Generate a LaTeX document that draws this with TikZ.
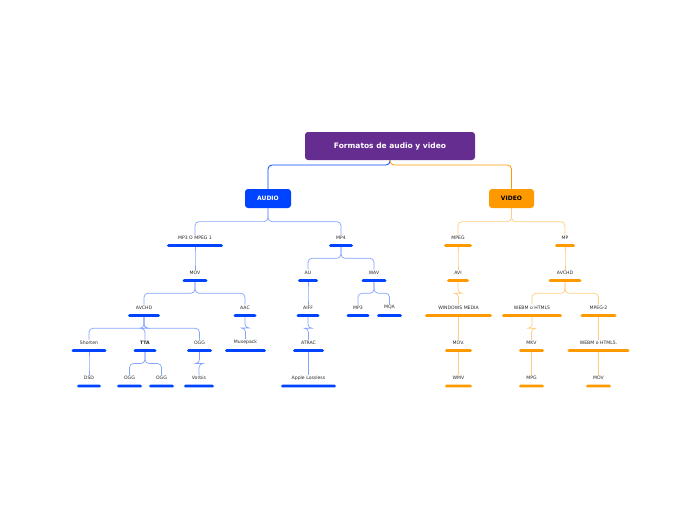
\documentclass[tikz,border=0pt]{standalone}
\usepackage{fontspec}
\setmainfont{DejaVu Sans}
\usetikzlibrary{calc}
\definecolor{purp}{HTML}{662D91}
\definecolor{ablue}{HTML}{0044FF}
\definecolor{lblue}{HTML}{86A4FF}
\definecolor{vor}{HTML}{FF9900}
\definecolor{lor}{HTML}{FFCC80}
\tikzset{
 lbl/.style={font=\fontsize{4.6}{5}\selectfont, text=black!85, inner sep=1pt},
 barA/.style={fill=ablue, rounded corners=1.3pt, minimum height=2.6pt, inner sep=0pt},
 barV/.style={fill=vor, rounded corners=1.3pt, minimum height=2.6pt, inner sep=0pt},
 cA/.style={draw=lblue, line width=0.7pt, rounded corners=4pt},
 cV/.style={draw=lor, line width=0.7pt, rounded corners=4pt},
}
\newcommand{\leafA}[6]{\node[lbl] (#1) at (#2,#3) {#6};\node[barA,minimum width=#5pt] (#1-b) at (#2,#4) {};}
\newcommand{\leafV}[6]{\node[lbl] (#1) at (#2,#3) {#6};\node[barV,minimum width=#5pt] (#1-b) at (#2,#4) {};}
\newcommand{\cn}[3]{\draw[#1] (#2) |- ($(#2)!.5!(#3.north)$) -| (#3.north);}
\begin{document}
\begin{tikzpicture}[x=1pt,y=-1pt]
\useasboundingbox (0,0) rectangle (697,520);
\node[fill=purp, rounded corners=3pt, minimum width=170pt, minimum height=28pt, text=white, font=\bfseries\fontsize{7.5}{9}\selectfont] (root) at (390,146) {Formatos de audio y video};
\node[fill=ablue, rounded corners=3pt, minimum width=46pt, minimum height=19pt, text=white, font=\bfseries\fontsize{6}{7}\selectfont] (audio) at (268,198.5) {AUDIO};
\node[fill=vor, rounded corners=3pt, minimum width=45pt, minimum height=19pt, text=black, font=\bfseries\fontsize{6}{7}\selectfont] (video) at (511.5,198.5) {VIDEO};
\draw[draw=ablue,line width=0.8pt,rounded corners=4pt] (root.south) |- (300,165) -| (audio.north);
\draw[draw=vor,line width=0.8pt,rounded corners=4pt] (root.south) |- (450,165) -| (video.north);
% audio
\leafA{mp3}{195}{238}{245.5}{56}{MP3 O MPEG 1}
\leafA{mp4}{341}{238}{245.5}{24}{MP4}
\leafA{mov}{195}{272.5}{280.5}{25}{MOV}
\leafA{au}{308}{272.5}{280.5}{20}{AU}
\leafA{wav}{374}{272.5}{280.5}{25}{WAV}
\leafA{avchd}{144}{307.5}{315.5}{32}{AVCHD}
\leafA{aac}{245}{307.5}{315.5}{23}{AAC}
\leafA{aiff}{308}{307.5}{315.5}{23}{AIFF}
\leafA{mp3b}{358}{307.5}{315.5}{23}{MP3}
\leafA{mqa}{389.5}{307.5}{315.5}{25}{MQA}
\leafA{shorten}{89}{342.5}{350.5}{35}{Shorten}
\leafA{tta}{145}{342.5}{350.5}{23}{\textbf{TTA}}
\leafA{ogg}{199.5}{342.5}{350.5}{25}{OGG}
\leafA{muse}{245.5}{342.5}{350.5}{41}{Musepack}
\leafA{atrac}{308.5}{342.5}{350.5}{31}{ATRAC}
\leafA{dsd}{89}{378}{386}{24}{DSD}
\leafA{ogg1}{129.5}{378}{386}{25}{OGG}
\leafA{ogg2}{161.5}{378}{386}{25}{OGG}
\leafA{vorbis}{199}{378}{386}{30}{Vorbis}
\leafA{apple}{308.5}{378}{386}{55}{Apple Lossless}
\cn{cA}{audio.south}{mp3}\cn{cA}{audio.south}{mp4}
\cn{cA}{mp3-b.south}{mov}
\cn{cA}{mp4-b.south}{au}\cn{cA}{mp4-b.south}{wav}
\cn{cA}{mov-b.south}{avchd}\cn{cA}{mov-b.south}{aac}
\cn{cA}{au-b.south}{aiff}
\cn{cA}{wav-b.south}{mp3b}\cn{cA}{wav-b.south}{mqa}
\cn{cA}{avchd-b.south}{shorten}\cn{cA}{avchd-b.south}{tta}\cn{cA}{avchd-b.south}{ogg}
\cn{cA}{aac-b.south}{muse}
\cn{cA}{aiff-b.south}{atrac}
\cn{cA}{shorten-b.south}{dsd}
\cn{cA}{tta-b.south}{ogg1}\cn{cA}{tta-b.south}{ogg2}
\cn{cA}{ogg-b.south}{vorbis}
\cn{cA}{atrac-b.south}{apple}
% video
\leafV{mpeg}{458}{238}{245.5}{28}{MPEG}
\leafV{mp}{565}{238}{245.5}{20}{MP}
\leafV{avi}{458}{272.5}{280.5}{22}{AVI}
\leafV{vavchd}{565}{272.5}{280.5}{33}{AVCHD}
\leafV{win}{458.5}{307.5}{315.5}{67}{WINDOWS MEDIA}
\leafV{webm}{532}{307.5}{315.5}{60}{WEBM o HTML5}
\leafV{mpeg2}{598.5}{307.5}{315.5}{36}{MPEG-2}
\leafV{movp}{458.5}{342.5}{350.5}{27}{MOV.}
\leafV{mkv}{531.5}{342.5}{350.5}{25}{MKV}
\leafV{webm2}{598.5}{342.5}{350.5}{62}{WEBM o HTML5.}
\leafV{wmv}{458.5}{378}{386}{27}{WMV}
\leafV{mpg}{531.5}{378}{386}{25}{MPG}
\leafV{vmov}{598.5}{378}{386}{25}{MOV}
\cn{cV}{video.south}{mpeg}\cn{cV}{video.south}{mp}
\cn{cV}{mpeg-b.south}{avi}
\cn{cV}{mp-b.south}{vavchd}
\cn{cV}{avi-b.south}{win}
\cn{cV}{vavchd-b.south}{webm}\cn{cV}{vavchd-b.south}{mpeg2}
\cn{cV}{win-b.south}{movp}
\cn{cV}{webm-b.south}{mkv}
\cn{cV}{mpeg2-b.south}{webm2}
\cn{cV}{movp-b.south}{wmv}
\cn{cV}{mkv-b.south}{mpg}
\cn{cV}{webm2-b.south}{vmov}
\end{tikzpicture}
\end{document}
